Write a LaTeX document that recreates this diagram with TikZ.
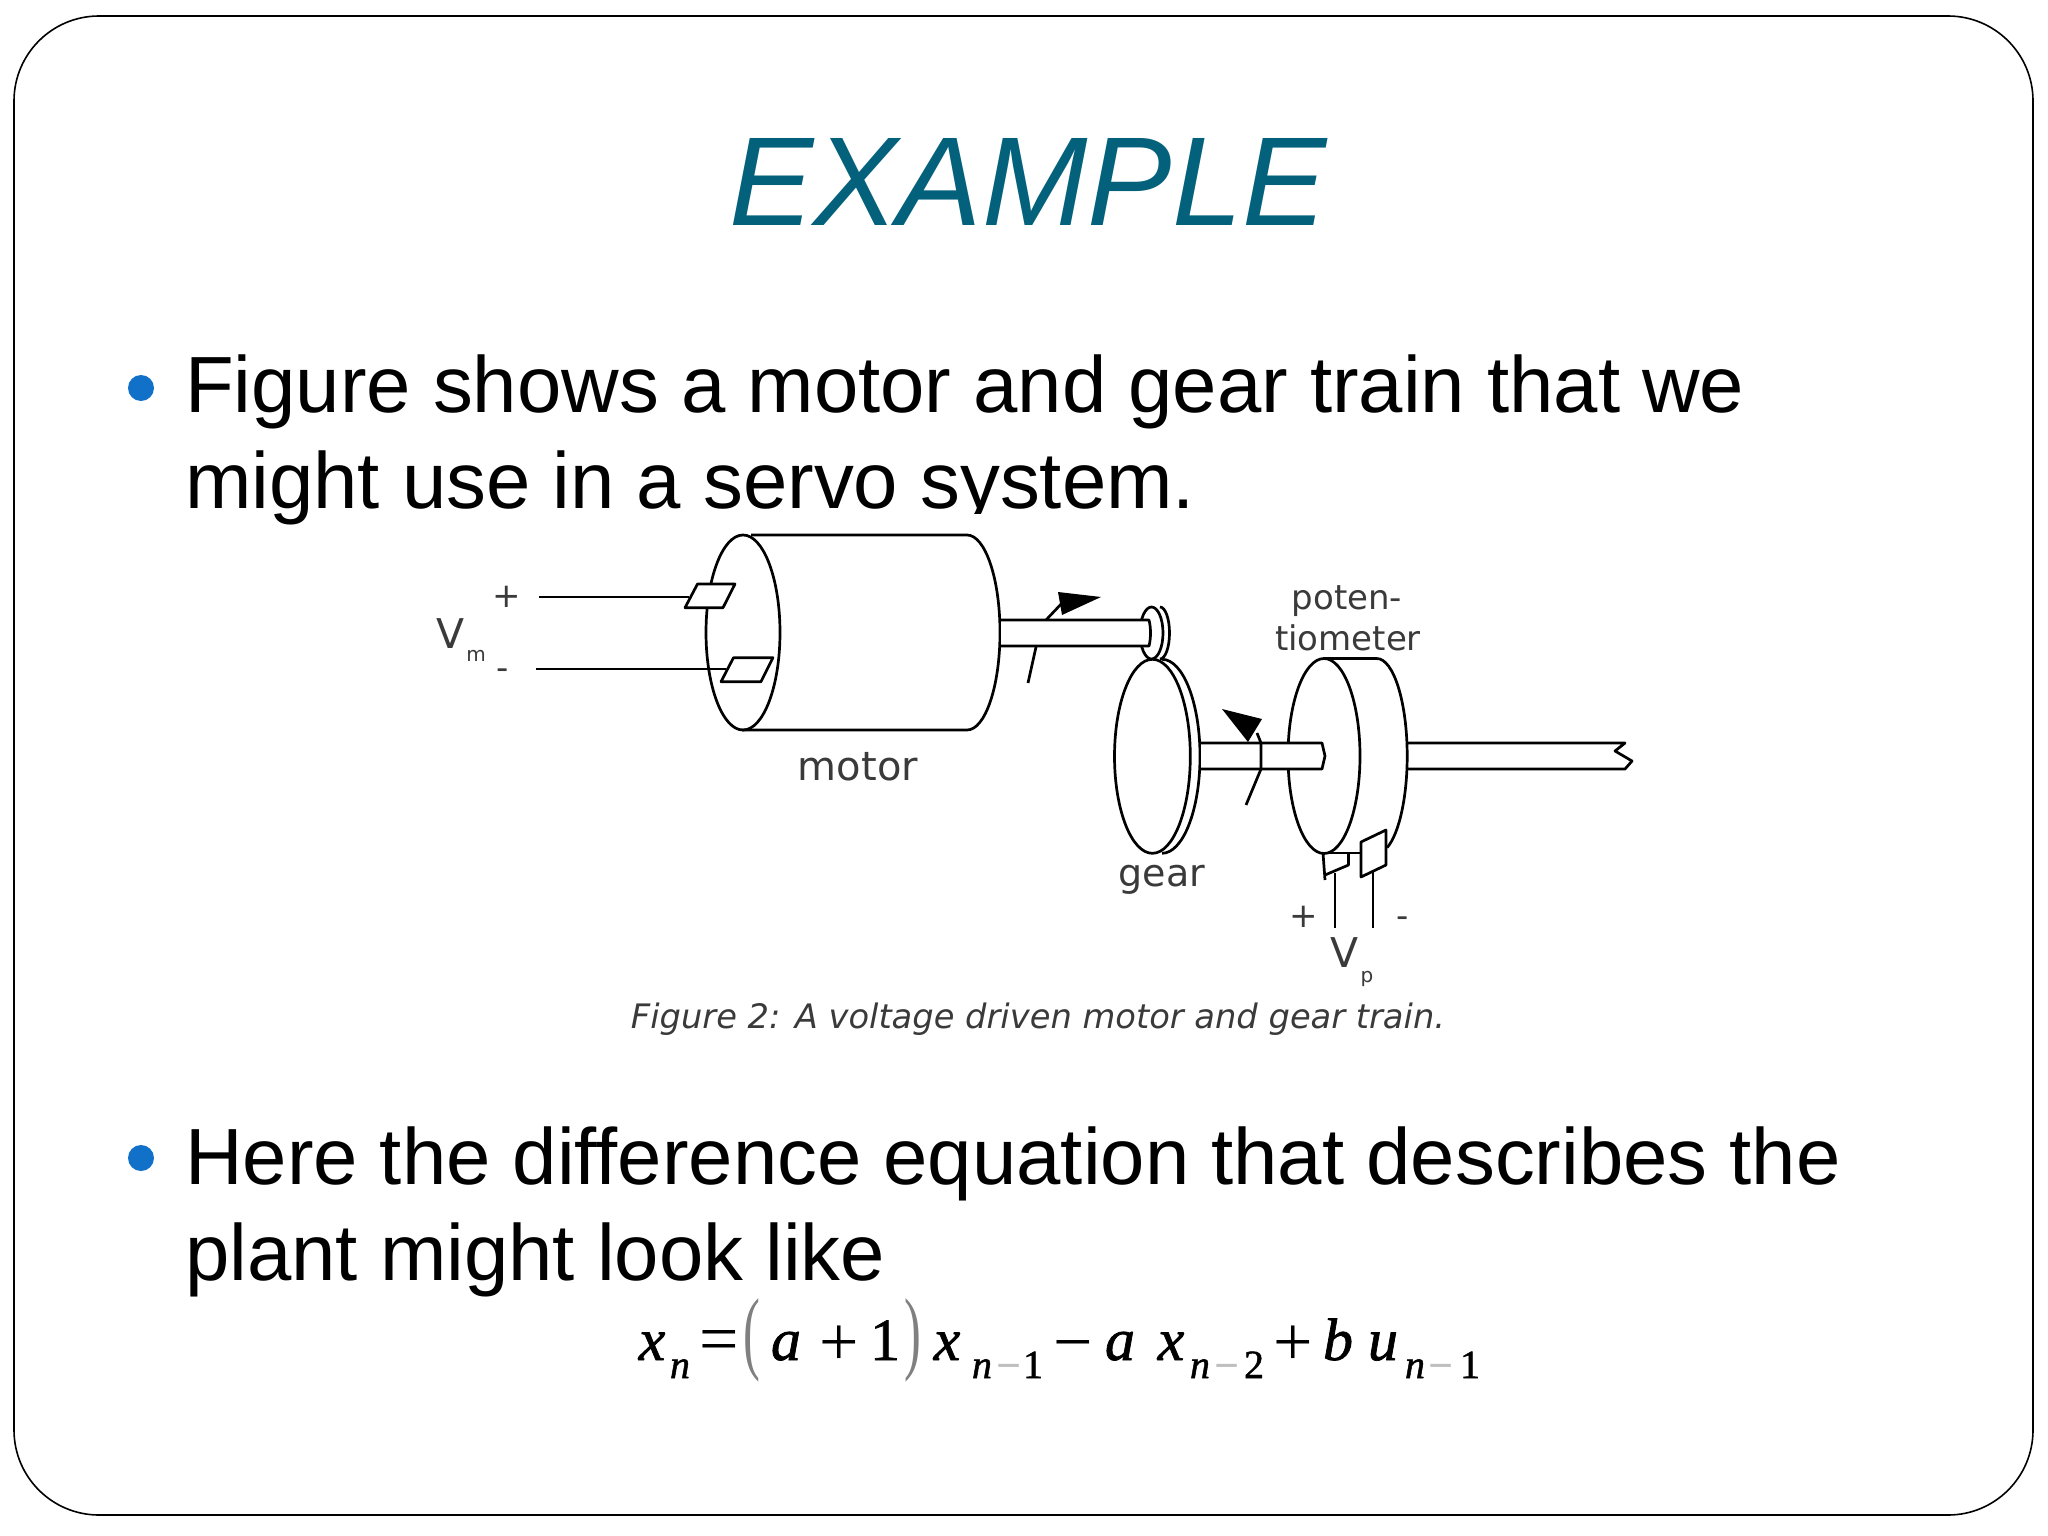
\documentclass[tikz,border=0pt]{standalone}
\usepackage{fontspec}
\setmainfont{Liberation Sans}
\newfontfamily\figfont{DejaVu Sans}
\newfontfamily\eqfont{Liberation Serif}
\newfontfamily\eqheavy[FakeBold=1.2]{Liberation Serif}
\definecolor{titleteal}{HTML}{04617B}
\definecolor{bulletblue}{HTML}{1170C8}
\definecolor{figgray}{HTML}{3A3A3A}
\tikzset{
  frameline/.style={draw=black,line width=1.6pt,rounded corners=85pt},
  ln/.style={draw=black,line width=2.7pt,line join=round},
  wh/.style={ln,fill=white},
  body/.style={anchor=base west,inner sep=0pt,font=\fontsize{79.7}{80}\selectfont,text=black},
  bulletdot/.style={circle,fill=bulletblue,minimum size=26pt,inner sep=0pt},
  figlabel/.style={inner sep=0pt,text=figgray,font=\figfont\fontsize{38}{38}\selectfont},
  figmid/.style={inner sep=0pt,text=figgray,font=\figfont\fontsize{34}{34}\selectfont},
  figvolt/.style={inner sep=0pt,text=figgray,font=\figfont\fontsize{41}{41}\selectfont},
  figsmall/.style={inner sep=0pt,text=figgray,font=\figfont\fontsize{20}{20}\selectfont},
  eqi/.style={anchor=base,inner sep=0pt,text=black,font=\eqheavy\itshape\fontsize{60}{60}\selectfont},
  eqs/.style={anchor=base,inner sep=0pt,text=black,font=\eqheavy\itshape\fontsize{40}{40}\selectfont},
  eqr/.style={anchor=base,inner sep=0pt,text=black,font=\eqfont\fontsize{70}{70}\selectfont},
  eqp/.style={anchor=base,inner sep=0pt,text=gray,font=\eqfont\fontsize{92}{92}\selectfont},
  eqn/.style={anchor=base,inner sep=0pt,text=black,font=\eqheavy\fontsize{60}{60}\selectfont},
  eqrs/.style={anchor=base,inner sep=0pt,text=black,font=\eqheavy\fontsize{40}{40}\selectfont},
  eqm/.style={anchor=base,inner sep=0pt,text=lightgray,font=\eqfont\bfseries\fontsize{44}{44}\selectfont},
}
\begin{document}
\begin{tikzpicture}[x=1pt,y=-1pt]
\useasboundingbox (0,0) rectangle (2048,1536);
\path[frameline] (14,16) rectangle (2033,1515);
\node[anchor=base,inner sep=0pt,text=titleteal,font=\itshape\fontsize{126.5}{126}\selectfont] (title) at (1028,225) {EXAMPLE};
\node[bulletdot] (b1) at (141,388) {};
\node[bulletdot] (b2) at (141,1158) {};
\node[body] (l1) at (185,412) {Figure shows a motor and gear train that we};
\node[body] (l2) at (185,508) {might use in a servo system.};
\node[body] (l3) at (185,1184) {Here the difference equation that describes the};
\node[body] (l4) at (185,1280) {plant might look like};
% the figure's white ground cuts the descender of the line above
\fill[white] (560,513.5) rectangle (1700,1060);
% motor
\draw[ln] (743,632.5) ellipse [x radius=37pt,y radius=97.5pt];
\draw[ln] (751,535) -- (967,535) arc[start angle=90,end angle=-90,x radius=33pt,y radius=97.5pt] -- (742,730);
\draw[wh] (697.5,584) -- (735,584) -- (723,607.7) -- (685,607.7) -- cycle;
\draw[wh] (733.5,657.7) -- (773,657.7) -- (761,681.7) -- (721,681.7) -- cycle;
\draw[ln] (539,597) -- (689,597);
\draw[ln] (536,669) -- (726,669);
\node[figmid] (plus1) at (507,597) {+};
\node[figvolt] (vm) at (451,634) {V};
\node[figsmall] (vmsub) at (476,656) {m};
\node[figmid] (minus1) at (503,674) {-};
\node[figlabel,font=\figfont\fontsize{40}{40}\selectfont] (motor) at (858,767) {motor};
% shaft 1 and small gear
\draw[ln] (1151.5,633) ellipse [x radius=11.5pt,y radius=26pt];
\draw[ln] (1160,607) arc[start angle=90,end angle=-90,x radius=9.5pt,y radius=26pt];
\fill[white] (1001,620) rectangle (1148,646);
\draw[ln] (1000,620) -- (1149,620) .. controls (1151,628) and (1151,638) .. (1149,646) -- (1000,646);
\draw[ln] (1036,647) -- (1028,683);
\draw[ln] (1046,620) -- (1063,602);
\fill[black] (1058,592) -- (1101,597) -- (1062,615) -- cycle;
% gear
\draw[ln] (1152.4,756.3) ellipse [x radius=37.9pt,y radius=97pt];
\draw[ln] (1162,659.3) arc[start angle=90,end angle=-90,x radius=38pt,y radius=97pt];
% potentiometer
\draw[ln] (1324,756) ellipse [x radius=36pt,y radius=97.5pt];
\draw[ln] (1324,658.5) -- (1376.7,658.5) arc[start angle=90,end angle=-70,x radius=30.5pt,y radius=97.5pt];
% shaft 2
\fill[white] (1201,743) rectangle (1321,769);
\draw[ln] (1200,743) -- (1322,743) -- (1325,756) -- (1322,769) -- (1200,769);
\draw[ln] (1261,743) -- (1261,769) -- (1246,805);
\draw[ln] (1257,733) -- (1261,743);
\fill[black] (1222,709) -- (1262,719) -- (1248,742) -- cycle;
% output shaft
\draw[ln] (1408,743) -- (1625,743) -- (1615,751) -- (1632,761) -- (1625,769) -- (1408,769);
% terminals
\draw[ln] (1322,853) -- (1361,853);
\draw[ln] (1323,853) -- (1325,880);
\draw[ln] (1348.5,853) -- (1348.5,865) -- (1325,875);
\draw[wh] (1361,842) -- (1386,830) -- (1386,865) -- (1361,877) -- cycle;
\draw[ln] (1335,873) -- (1335,928);
\draw[ln] (1373,872) -- (1373,928);
\node[figmid] (plus2) at (1304,917) {+};
\node[figmid] (minus2) at (1403,922) {-};
\node[figvolt] (vp) at (1345,953) {V};
\node[figsmall] (vpsub) at (1367,979) {p};
\node[figlabel] (gear) at (1162,880) {gear};
\node[figmid] (poten) at (1347,601) {poten-};
\node[figmid] (tiom) at (1348,638) {tiometer};
\node[inner sep=0pt,text=figgray,font=\figfont\itshape\fontsize{33.7}{34}\selectfont] (caption) at (1038,1019) {Figure 2: A voltage driven motor and gear train.};
% equation
\node[eqi] (e1) at (652,1360) {x};
\node[eqs] (e2) at (680,1378) {n};
\node[eqr] (e3) at (719,1362) {=};
\node[eqp] (e4) at (752,1362) {\scalebox{0.55}[1]{(}};
\node[eqi] (e5) at (786,1360) {a};
\node[eqr] (e6) at (839,1365) {+};
\node[eqn] (e7) at (885,1360) {1};
\node[eqp] (e8) at (913,1362) {\scalebox{0.55}[1]{)}};
\node[eqi] (e9) at (947,1360) {x};
\node[eqs] (e10) at (982,1378) {n};
\node[eqm] (e11) at (1009,1380) {−};
\node[eqrs] (e12) at (1033,1378) {1};
\node[eqr] (e13) at (1073,1365) {−};
\node[eqi] (e14) at (1120,1360) {a};
\node[eqi] (e15) at (1171,1360) {x};
\node[eqs] (e16) at (1200,1378) {n};
\node[eqm] (e17) at (1227,1380) {−};
\node[eqrs] (e18) at (1254,1378) {2};
\node[eqr] (e19) at (1293,1365) {+};
\node[eqi] (e20) at (1338,1360) {b};
\node[eqi] (e21) at (1383,1360) {u};
\node[eqs] (e22) at (1415,1378) {n};
\node[eqm] (e23) at (1441,1380) {−};
\node[eqrs] (e24) at (1470,1378) {1};
\end{tikzpicture}
\end{document}
